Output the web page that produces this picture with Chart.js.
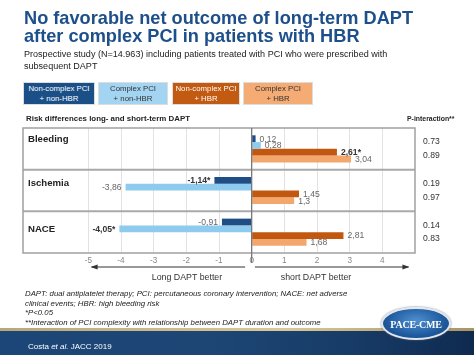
<!DOCTYPE html>
<html>
<head>
<meta charset="utf-8">
<script src="https://cdn.jsdelivr.net/npm/chart.js@4"></script>
<style>
  html,body{margin:0;padding:0;background:#fff;}
  #wrap{position:relative;width:474px;height:355px;overflow:hidden;font-family:"Liberation Sans",Arial,sans-serif;}
  #c{position:absolute;left:0;top:0;}
  .t{position:absolute;white-space:nowrap;}
  #title{left:24px;top:9px;font-size:18.2px;line-height:18px;font-weight:bold;color:#1d4f8a;}
  #sub{left:24px;top:48px;font-size:9.05px;line-height:12px;color:#222;}
  .lg{position:absolute;top:82px;height:23px;font-size:7.8px;line-height:9.5px;text-align:center;display:flex;align-items:center;justify-content:center;box-sizing:border-box;border:1px solid #ddd;}
  #risk{left:26px;top:114px;font-size:7.9px;font-weight:bold;color:#222;}
  #pint{left:407px;top:115px;font-size:6.9px;font-weight:bold;color:#222;}
  #foot{left:25px;top:289px;font-size:7.8px;line-height:9.7px;font-style:italic;color:#222;}
  #band{position:absolute;left:0;top:331px;width:474px;height:24px;background:linear-gradient(90deg,#1c4677 0%,#1d4675 45%,#173b66 75%,#0f2a4f 100%);}
  #gold{position:absolute;left:0;top:328px;width:474px;height:3px;background:linear-gradient(90deg,#b9a77a,#d8c99a 60%,#a99466);}
  #cite{left:28px;top:342px;font-size:8px;color:#fff;}
  #logo{position:absolute;left:381px;top:307px;width:70px;height:33px;border-radius:50%;background:radial-gradient(ellipse at 50% 40%,#4f8fd0 0%,#1f5b9f 60%,#163f74 100%);border:2px solid #dfe6ef;box-sizing:border-box;box-shadow:0 0 2px #667;}
  #logoT{position:absolute;left:0;top:10px;width:66px;text-align:center;font-family:"Liberation Serif",serif;font-size:10px;font-weight:bold;color:#fff;letter-spacing:-0.2px;}
</style>
</head>
<body>
<div id="wrap">
  <canvas id="c" width="474" height="355"></canvas>
  <div class="t" id="title">No favorable net outcome of long-term DAPT<br>after complex PCI in patients with HBR</div>
  <div class="t" id="sub">Prospective study (N=14.963) including patients treated with PCI who were prescribed with<br>subsequent DAPT</div>
  <div id="legend"></div>
  <div class="t" id="risk">Risk differences long- and short-term DAPT</div>
  <div class="t" id="pint">P-interaction**</div>
  <div class="t" id="foot">DAPT: dual antiplatelet therapy; PCI: percutaneous coronary intervention; NACE: net adverse<br>clinical events; HBR: high bleeding risk<br>*P&lt;0.05<br>**Interaction of PCI complexity with relationship between DAPT duration and outcome</div>
  <div id="gold"></div>
  <div id="band"></div>
  <div class="t" id="cite">Costa <i>et al.</i> JACC 2019</div>
  <div id="logo"><div id="logoT">PACE-CME</div></div>
</div>
<script>
// ---- data ----
const categories = ["Bleeding", "Ischemia", "NACE"];
const seriesNames = ["Non-complex PCI\n+ non-HBR", "Complex PCI\n+ non-HBR", "Non-complex PCI\n+ HBR", "Complex PCI\n+ HBR"];
const nonComplexNonHBR = [0.12, -1.14, -0.91];
const complexNonHBR    = [0.28, -3.86, -4.05];
const nonComplexHBR    = [2.61, 1.45, 2.81];
const complexHBR       = [3.04, 1.30, 1.68];
const sigNonComplexNonHBR = [false, true, false];
const sigComplexNonHBR    = [false, false, true];
const sigNonComplexHBR    = [true, false, false];
const sigComplexHBR       = [false, false, false];
const pInteractionNonHBR = ["0.73", "0.19", "0.14"];
const pInteractionHBR    = ["0.89", "0.97", "0.83"];
const xTickValues = [-5, -4, -3, -2, -1, 0, 1, 2, 3, 4];
const xMin = -7, xMax = 5;
const leftCaption = "Long DAPT better";
const rightCaption = "short DAPT better";

// ---- styles ----
const barColors = ["#1f4e86", "#8fcbef", "#c2570f", "#f4a76c"];
const legendColors = ["#1b4f88", "#a3d5f3", "#c25a12", "#f5ab74"];
const legendText = ["#fff", "#333", "#fff", "#333"];
const legendPos = [[23,72],[98,70],[172,68],[243,70]];

const lg = document.getElementById('legend');
seriesNames.forEach((n,i)=>{
  const d=document.createElement('div');
  d.className='lg';
  d.style.left=legendPos[i][0]+'px'; d.style.width=legendPos[i][1]+'px';
  d.style.background=legendColors[i]; d.style.color=legendText[i];
  d.innerHTML=n.replace('\n','<br>');
  lg.appendChild(d);
});

const allValues = [nonComplexNonHBR, complexNonHBR, nonComplexHBR, complexHBR];
const allSig = [sigNonComplexNonHBR, sigComplexNonHBR, sigNonComplexHBR, sigComplexHBR];
const fmt = (v, s) => String(v).replace('.', ',') + (s ? '*' : '');

const FONT = '"Liberation Sans", Arial, sans-serif';
const catLabelOffset = [-9, -7, -3];

const decor = {
  id: 'decor',
  afterDraw(chart) {
    const ctx = chart.ctx, a = chart.chartArea;
    const xs = chart.scales.x, ys = chart.scales.y;
    ctx.save();
    // panel dividers
    ctx.strokeStyle = '#a9a9a9'; ctx.lineWidth = 2;
    for (let i = 0; i < categories.length - 1; i++) {
      const y = (ys.getPixelForValue(i) + ys.getPixelForValue(i + 1)) / 2;
      ctx.beginPath(); ctx.moveTo(a.left, y); ctx.lineTo(a.right, y); ctx.stroke();
    }
    // box
    ctx.strokeStyle = '#a0a0a0'; ctx.lineWidth = 1.5;
    ctx.strokeRect(a.left, a.top, a.right - a.left, a.bottom - a.top);
    // zero line extension
    const x0 = xs.getPixelForValue(0);
    ctx.strokeStyle = '#777'; ctx.lineWidth = 1.3;
    ctx.beginPath(); ctx.moveTo(x0, a.top); ctx.lineTo(x0, a.bottom + 10); ctx.stroke();
    // category labels
    ctx.fillStyle = '#222'; ctx.font = 'bold 9.6px ' + FONT;
    ctx.textBaseline = 'middle'; ctx.textAlign = 'left';
    categories.forEach((c, i) => ctx.fillText(c, a.left + 5, ys.getPixelForValue(i) + catLabelOffset[i]));
    // value labels
    allValues.forEach((vals, di) => {
      const meta = chart.getDatasetMeta(di);
      meta.data.forEach((bar, i) => {
        const v = vals[i], s = allSig[di][i];
        ctx.font = (s ? 'bold ' : '') + '8.6px ' + FONT;
        ctx.fillStyle = s ? '#333' : '#666';
        if (v >= 0) { ctx.textAlign = 'left'; ctx.fillText(fmt(v, s), bar.x + 4, bar.y + 0.5); }
        else { ctx.textAlign = 'right'; ctx.fillText(fmt(v, s), bar.x - 4, bar.y + 0.5); }
      });
    });
    // p-interaction values
    ctx.font = '8.6px ' + FONT; ctx.fillStyle = '#333'; ctx.textAlign = 'left';
    categories.forEach((c, i) => {
      const m = k => chart.getDatasetMeta(k).data[i].y;
      ctx.fillText(pInteractionNonHBR[i], 423, (m(0) + m(1)) / 2);
      ctx.fillText(pInteractionHBR[i], 423, (m(2) + m(3)) / 2);
    });
    // arrows
    const ay = a.bottom + 14;
    ctx.strokeStyle = '#333'; ctx.fillStyle = '#333'; ctx.lineWidth = 1;
    const arrow = (x1, x2) => {
      ctx.beginPath(); ctx.moveTo(x1, ay); ctx.lineTo(x2, ay); ctx.stroke();
      const d = x2 > x1 ? 1 : -1;
      ctx.beginPath(); ctx.moveTo(x2 + d * 1, ay); ctx.lineTo(x2 - d * 6, ay - 2.5); ctx.lineTo(x2 - d * 6, ay + 2.5); ctx.closePath(); ctx.fill();
    };
    arrow(xs.getPixelForValue(-0.2), xs.getPixelForValue(-4.9));
    arrow(xs.getPixelForValue(0.1), xs.getPixelForValue(4.8));
    ctx.font = '8.8px ' + FONT; ctx.fillStyle = '#333'; ctx.textAlign = 'center';
    ctx.fillText(leftCaption, xs.getPixelForValue(-1.98), ay + 11);
    ctx.fillText(rightCaption, xs.getPixelForValue(1.97), ay + 11);
    ctx.restore();
  }
};

new Chart(document.getElementById('c'), {
  type: 'bar',
  data: {
    labels: categories,
    datasets: allValues.map((vals, i) => ({
      label: seriesNames[i].replace('\n', ' '),
      data: vals,
      backgroundColor: barColors[i],
      borderWidth: 0,
      barPercentage: 1,
      categoryPercentage: 0.65
    }))
  },
  options: {
    indexAxis: 'y',
    responsive: false,
    animation: false,
    layout: { padding: { left: 23, right: 59, top: 128, bottom: 88 } },
    plugins: { legend: { display: false }, tooltip: { enabled: false } },
    scales: {
      y: { display: false },
      x: {
        min: xMin, max: xMax,
        afterFit: s => { s.height = 14; },
        afterBuildTicks: s => { s.ticks = [xMin, ...xTickValues, xMax].map(v => ({ value: v })); },
        border: { display: false },
        grid: {
          drawTicks: false,
          color: c => (xTickValues.includes(c.tick.value) && c.tick.value !== 0) ? '#e2e2e2' : 'rgba(0,0,0,0)',
          lineWidth: 1
        },
        ticks: {
          padding: 3,
          color: '#888',
          font: { family: FONT, size: 8.2 },
          callback: v => xTickValues.includes(v) ? String(v) : ''
        }
      }
    }
  },
  plugins: [decor]
});
</script>
</body>
</html>
